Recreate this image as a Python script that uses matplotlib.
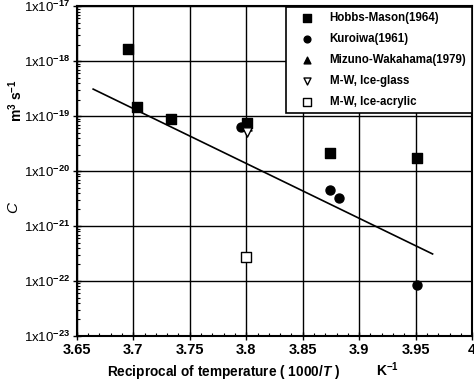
import numpy as np
import matplotlib
matplotlib.use("Agg")
import matplotlib.pyplot as plt
from matplotlib.ticker import LogLocator, NullFormatter, MultipleLocator

plt.rcParams['font.family'] = ['Liberation Sans', 'DejaVu Sans']
plt.rcParams['mathtext.fontset'] = 'custom'
plt.rcParams['mathtext.rm'] = 'Liberation Sans'
plt.rcParams['mathtext.it'] = 'Liberation Sans:italic:bold'
plt.rcParams['mathtext.bf'] = 'Liberation Sans:bold'
plt.rcParams['mathtext.default'] = 'bf'

# data
hm_x = [3.695, 3.703, 3.733, 3.801, 3.874, 3.951]
hm_y = [1.65e-18, 1.45e-19, 8.9e-20, 7.4e-20, 2.1e-20, 1.7e-20]

ku_x = [3.795, 3.874, 3.882, 3.951]
ku_y = [6.4e-20, 4.5e-21, 3.2e-21, 8.3e-23]

mw_x = [3.801]
mw_y = [6.5e-20]

glass_x = [3.801]
glass_y = [5.1e-20]

acryl_x = [3.800]
acryl_y = [2.7e-22]

fit_x = [3.6645, 3.965]
fit_y = [3.1e-19, 3.1e-22]

xticks = [3.65, 3.7, 3.75, 3.8, 3.85, 3.9, 3.95, 4.0]
xlabels = ['3.65', '3.7', '3.75', '3.8', '3.85', '3.9', '3.95', '4']
ydecades = [-23, -22, -21, -20, -19, -18, -17]

fig = plt.figure(figsize=(4.74, 3.87), dpi=100)
ax = fig.add_axes([0.162, 0.132, 0.834, 0.852])

ax.set_yscale('log')
ax.set_xlim(3.65, 4.0)
ax.set_ylim(1e-23, 1e-17)

ax.plot(fit_x, fit_y, color='black', lw=1.2, zorder=3)

ax.scatter(hm_x, hm_y, marker='s', s=50, color='black', zorder=4, label='Hobbs-Mason(1964)')
ax.scatter(ku_x, ku_y, marker='o', s=42, color='black', zorder=4, label='Kuroiwa(1961)')
ax.scatter(mw_x, mw_y, marker='^', s=42, color='black', zorder=4, label='Mizuno-Wakahama(1979)')
ax.scatter(glass_x, glass_y, marker='v', s=45, facecolor='white', edgecolor='black',
           linewidth=1.0, zorder=5, label='M-W, Ice-glass')
ax.scatter(acryl_x, acryl_y, marker='s', s=50, facecolor='white', edgecolor='black',
           linewidth=1.0, zorder=5, label='M-W, Ice-acrylic')

ax.set_xticks(xticks)
ax.set_xticklabels(xlabels, fontsize=10.5, fontweight='bold')
ax.xaxis.set_minor_locator(MultipleLocator(0.01))
ax.set_yticks([10.0 ** d for d in ydecades])
ax.set_yticklabels([r'1x10$^{%d}$' % d for d in ydecades], fontsize=9.5)
ax.yaxis.set_minor_locator(LogLocator(base=10, subs=np.arange(2, 10), numticks=20))
ax.yaxis.set_minor_formatter(NullFormatter())

ax.tick_params(which='major', direction='inout', length=6, width=1.0, color='black', pad=2)
ax.tick_params(which='minor', direction='in', length=2.5, width=0.8)
ax.grid(True, which='major', color='black', lw=1.0)
for s in ax.spines.values():
    s.set_linewidth(1.5)

leg = ax.legend(loc='upper right', fontsize=8.3, frameon=True, fancybox=False,
                edgecolor='black', borderaxespad=0.05, handletextpad=0.7,
                labelspacing=0.78, borderpad=0.45, scatterpoints=1,
                markerscale=0.75, handlelength=2.6)
leg.get_frame().set_linewidth(1.2)
leg.get_frame().set_alpha(1)
for t in leg.get_texts():
    t.set_fontweight('bold')

fig.text(0.033, 0.74, r'm$^3$ s$^{-1}$', rotation=90, fontsize=10, fontweight='bold',
         ha='center', va='center')
fig.text(0.028, 0.465, 'C', rotation=90, fontsize=11, style='italic',
         ha='center', va='center')
fig.text(0.472, 0.038, r'Reciprocal of temperature ( 1000/$\mathit{T}$ )', fontsize=9.8,
         fontweight='bold', ha='center', va='center')
fig.text(0.817, 0.045, r'K$^{-1}$', fontsize=10, fontweight='bold', ha='center', va='center')

fig.savefig('out.png', dpi=100)
